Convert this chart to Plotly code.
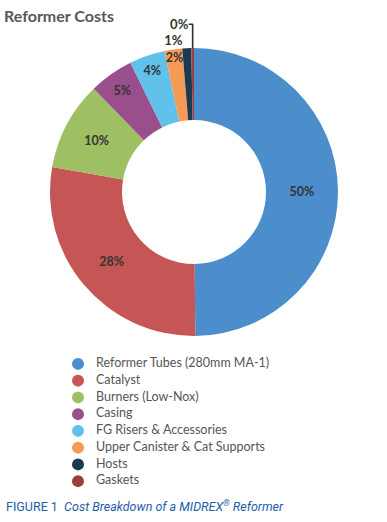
import plotly.graph_objects as go

categories = ["Reformer Tubes (280mm MA-1)", "Catalyst", "Burners (Low-Nox)", "Casing",
              "FG Risers & Accessories", "Upper Canister & Cat Supports", "Hosts", "Gaskets"]
values = [50, 28, 10, 5, 4, 2, 1, 0.3]
colors = ["#4b8ecb", "#c65655", "#9fbf63", "#9a4f8d", "#61c1eb", "#f49a55", "#1b3a52", "#9b3f3b"]
text_pos = ["inside", "inside", "inside", "inside", "inside", "inside", "outside", "outside"]

W, H = 387, 522
fig = go.Figure()

fig.add_trace(go.Pie(
    labels=categories, values=values, sort=False, direction="clockwise", rotation=0,
    hole=0.5, marker=dict(colors=colors, line=dict(width=0)),
    texttemplate="%{value:.0f}%", textposition=text_pos,
    insidetextorientation="horizontal",
    textfont=dict(family="Lato", size=12.5, color="#333333", weight="bold"),
    outsidetextfont=dict(family="Lato", size=13, color="#333333", weight="bold"),
    showlegend=False, hoverinfo="label+percent",
    domain=dict(x=[50 / W, 338 / W], y=[(H - 336) / H, (H - 48) / H]),
))

# legend drawn as a marker column + a text column
fig.add_trace(go.Scatter(
    x=[0] * len(categories), y=categories, mode="markers",
    marker=dict(color=colors, size=12, symbol="circle"),
    cliponaxis=False, showlegend=False, hoverinfo="skip",
))
fig.add_trace(go.Scatter(
    x=[18] * len(categories), y=categories, mode="text",
    text=categories, textposition="middle right",
    textfont=dict(family="Lato", size=12.5, color="#555555"),
    cliponaxis=False, showlegend=False, hoverinfo="skip",
))

fig.update_layout(
    width=W, height=H, margin=dict(l=0, r=0, t=0, b=0),
    paper_bgcolor="white", plot_bgcolor="white",
    uniformtext=dict(minsize=12.5, mode="show"),
    title=dict(text="<b>Reformer Costs</b>", x=4 / W, xanchor="left", y=1 - 16 / H, yanchor="middle",
               font=dict(family="Lato", size=16, color="#58585a")),
    xaxis=dict(domain=[0, 1], range=[-78, W - 78], visible=False, fixedrange=True),
    yaxis=dict(domain=[(H - 489.5) / H, (H - 355.5) / H], type="category",
               categoryorder="array", categoryarray=categories,
               range=[len(categories) - 0.5, -0.5], visible=False, fixedrange=True),
    annotations=[dict(
        text="FIGURE 1  <i>Cost Breakdown of a MIDREX<sup>®</sup> Reformer</i>",
        xref="paper", yref="paper", x=4 / W, y=(H - 506) / H, xanchor="left", yanchor="middle",
        showarrow=False, font=dict(family="Roboto", size=12.5, color="#1d5ea8"),
    )],
)

fig.write_html("out.html", config={"displayModeBar": False},
               post_script="document.body.style.margin='0';document.body.style.overflow='hidden';")
